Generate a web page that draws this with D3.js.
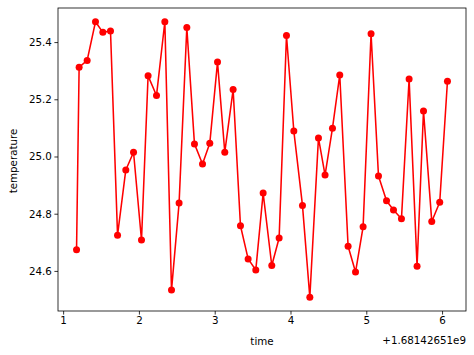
<!DOCTYPE html>
<html>
<head>
<meta charset="utf-8">
<script src="https://cdn.jsdelivr.net/npm/d3@7/dist/d3.min.js"></script>
<style>
  body { margin: 0; background: #fff; }
  svg { display: block; font-family: "DejaVu Sans", sans-serif; }
</style>
</head>
<body>
<script>
// time values, offset from 1.68142651e9
var timeBase = '+1.68142651e9';
var times = [1.177, 1.211, 1.317, 1.427, 1.524, 1.625, 1.718, 1.827, 1.929, 2.034,
  2.121, 2.232, 2.342, 2.430, 2.530, 2.632, 2.733, 2.839, 2.935, 3.037,
  3.133, 3.243, 3.340, 3.441, 3.542, 3.639, 3.753, 3.850, 3.947, 4.044,
  4.158, 4.255, 4.369, 4.456, 4.554, 4.650, 4.760, 4.858, 4.958, 5.063,
  5.161, 5.267, 5.359, 5.464, 5.565, 5.670, 5.755, 5.864, 5.969, 6.071];
var temperature = [24.674, 25.312, 25.336, 25.471, 25.434, 25.439, 24.725, 24.953, 25.015, 24.708,
  25.282, 25.213, 25.471, 24.533, 24.837, 25.451, 25.044, 24.974, 25.046, 25.330,
  25.015, 25.234, 24.758, 24.642, 24.603, 24.872, 24.619, 24.715, 25.423, 25.089,
  24.829, 24.508, 25.065, 24.935, 25.099, 25.285, 24.686, 24.596, 24.754, 25.429,
  24.932, 24.845, 24.813, 24.782, 25.271, 24.616, 25.159, 24.773, 24.840, 25.263];
var xTicks = [1, 2, 3, 4, 5, 6];
var yTicks = [24.6, 24.8, 25.0, 25.2, 25.4];

var width = 474;
var height = 355;
var box = { left: 58, top: 8, right: 466, bottom: 311 };
var fontSize = 10.3;

var svg = d3.select('body').append('svg').attr('width', width).attr('height', height);

// matplotlib style 5% margins
function padded(ext) {
    var m = (ext[1] - ext[0]) * 0.05;
    return [ext[0] - m, ext[1] + m];
}
var xScale = d3.scaleLinear().domain(padded(d3.extent(times))).range([box.left, box.right]);
var yScale = d3.scaleLinear().domain(padded(d3.extent(temperature))).range([box.bottom, box.top]);

var xAxis = d3.axisBottom(xScale).tickValues(xTicks).tickFormat(d3.format('d')).tickSize(3.6).tickPadding(2.5);
var yAxis = d3.axisLeft(yScale).tickValues(yTicks).tickFormat(d3.format('.1f')).tickSize(3.6).tickPadding(2.5);

var gx = svg.append('g').attr('transform', 'translate(0,' + box.bottom + ')').call(xAxis);
var gy = svg.append('g').attr('transform', 'translate(' + box.left + ',0)').call(yAxis);
[gx, gy].forEach(function (g) {
    g.select('.domain').remove();
    g.selectAll('line').attr('stroke', '#000').attr('stroke-width', 0.8);
    g.selectAll('text').attr('fill', '#000').style('font-size', fontSize + 'px').style('font-family', '"DejaVu Sans", sans-serif');
});

// spines
svg.append('rect')
    .attr('x', box.left).attr('y', box.top)
    .attr('width', box.right - box.left).attr('height', box.bottom - box.top)
    .attr('fill', 'none').attr('stroke', '#000').attr('stroke-width', 0.8);

var pts = times.map(function (t, i) { return [t, temperature[i]]; });
var line = d3.line()
    .x(function (d) { return xScale(d[0]); })
    .y(function (d) { return yScale(d[1]); });

svg.append('path')
    .datum(pts)
    .attr('d', line)
    .attr('fill', 'none')
    .attr('stroke', 'red')
    .attr('stroke-width', 1.55)
    .attr('stroke-linejoin', 'round');

svg.selectAll('circle.pt')
    .data(pts)
    .enter()
    .append('circle')
    .attr('class', 'pt')
    .attr('cx', function (d) { return xScale(d[0]); })
    .attr('cy', function (d) { return yScale(d[1]); })
    .attr('r', 3.5)
    .attr('fill', 'red');

// labels
svg.append('text')
    .attr('x', (box.left + box.right) / 2).attr('y', 345)
    .attr('text-anchor', 'middle')
    .style('font-size', fontSize + 'px')
    .text('time');

svg.append('text')
    .attr('x', box.right).attr('y', 344)
    .attr('text-anchor', 'end')
    .style('font-size', fontSize + 'px')
    .text(timeBase);

svg.append('text')
    .attr('transform', 'translate(17,' + ((box.top + box.bottom) / 2 + 1.5) + ') rotate(-90)')
    .attr('text-anchor', 'middle')
    .style('font-size', fontSize + 'px')
    .text('temperature');
</script>
</body>
</html>
